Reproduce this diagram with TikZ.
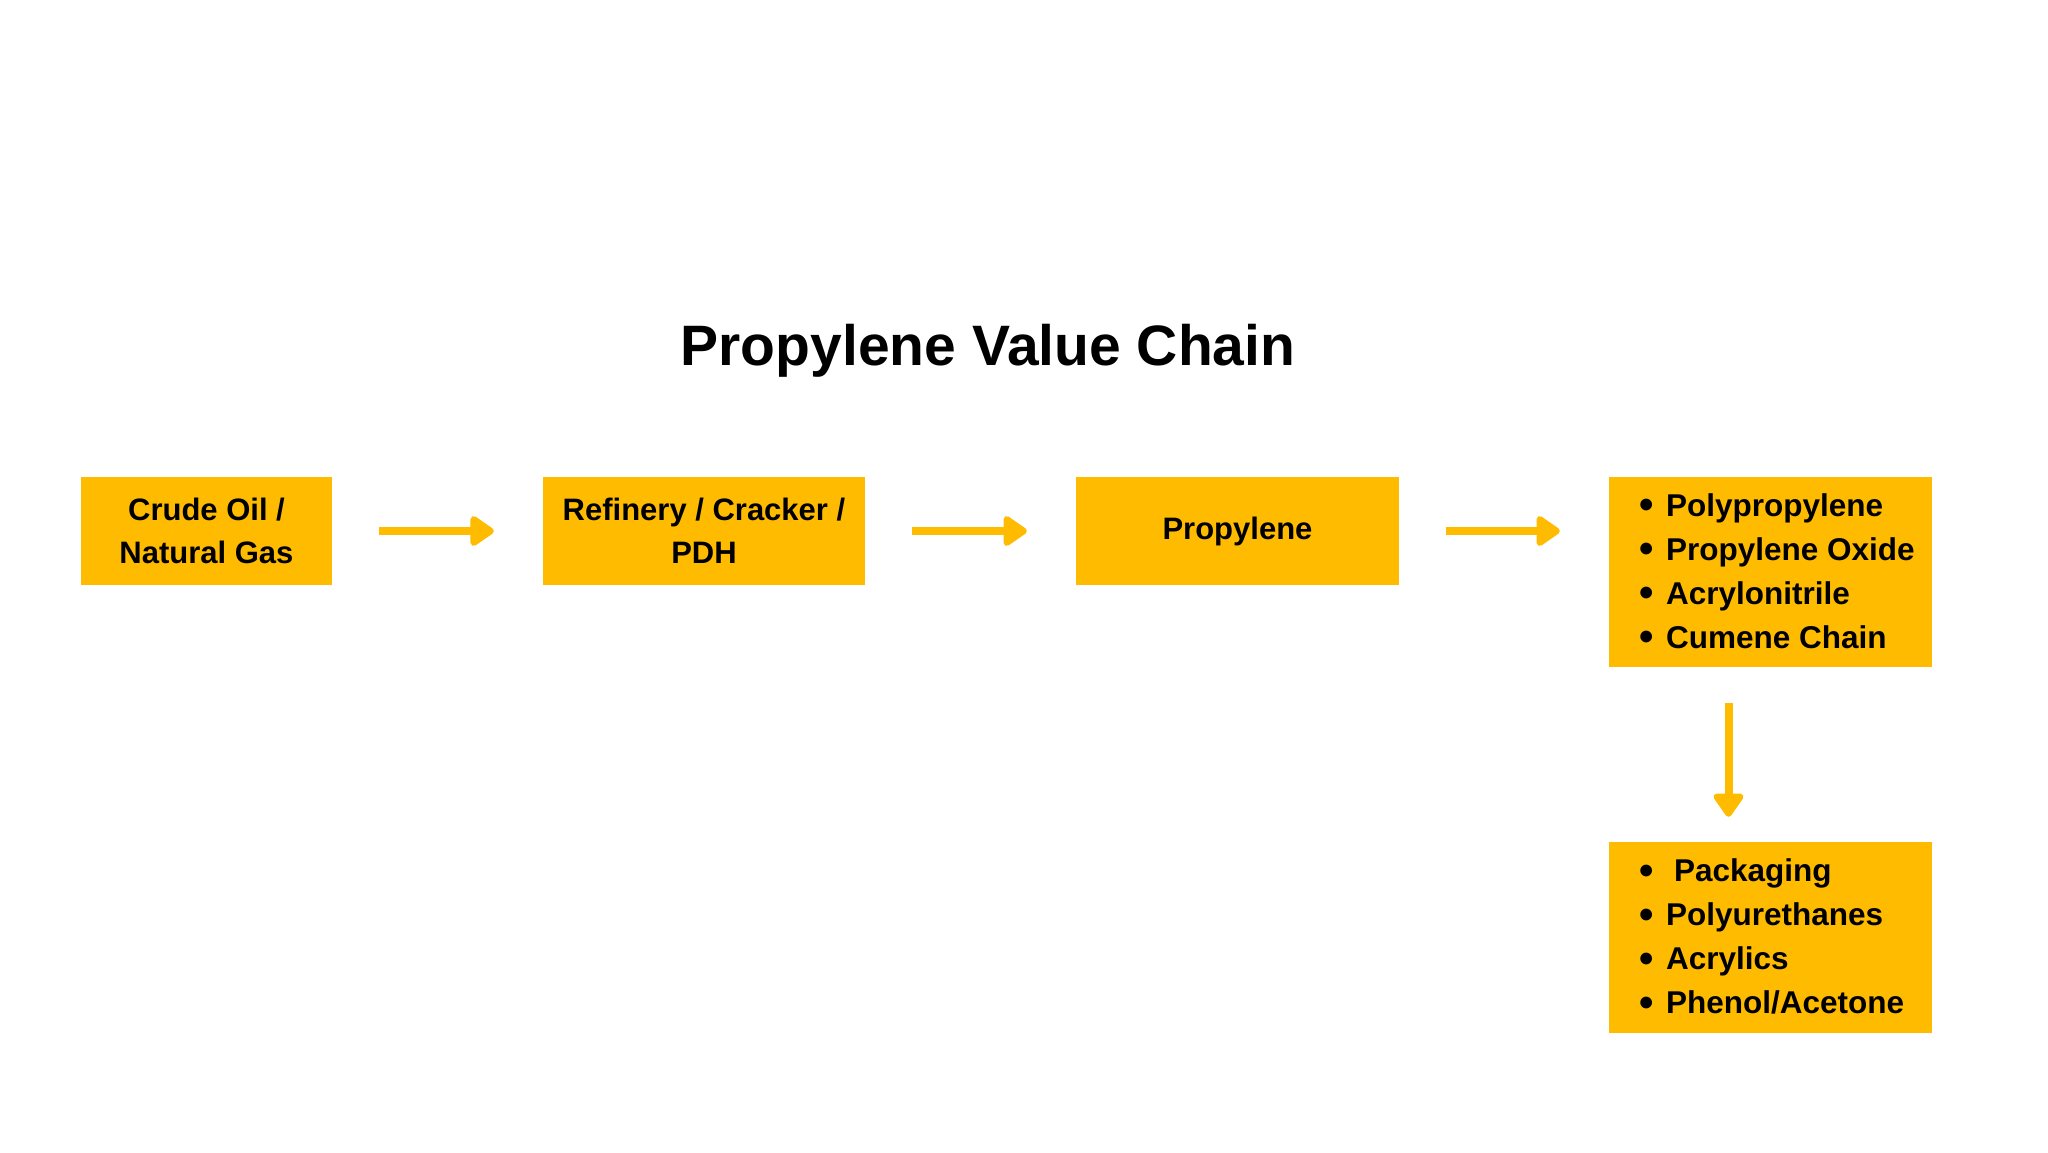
\documentclass[tikz,border=0pt]{standalone}
\usepackage{fontspec}
\setmainfont{Liberation Sans}
\usetikzlibrary{arrows.meta}
\definecolor{boxy}{HTML}{FFBB00}
\newcommand{\blt}{\makebox[27pt][l]{\raisebox{-2.5pt}{\scalebox{1.3}{•}}}}
\begin{document}
\begin{tikzpicture}[x=1pt,y=-1pt,
  stagebox/.style={fill=boxy,draw=none,inner sep=0pt,align=center,
    font=\fontsize{31}{43}\selectfont\bfseries,text=black},
  listtext/.style={inner sep=0pt,align=left,anchor=west,
    font=\fontsize{31.5}{44}\selectfont\bfseries,text=black},
  flow/.style={draw=boxy,line width=8pt,
    -{Triangle[length=26pt,width=34pt,round]}}]
\useasboundingbox (0,0) rectangle (2048,1152);
\fill[white] (0,0) rectangle (2048,1152);

\node[font=\fontsize{57}{66}\selectfont\bfseries,anchor=base] (title) at (988,365) {Propylene Value Chain};

\node[stagebox,minimum width=251pt,minimum height=108pt] (b1) at (206.5,531) {Crude Oil /\\Natural Gas};
\node[stagebox,minimum width=322pt,minimum height=108pt] (b2) at (704,531) {Refinery / Cracker /\\PDH};
\node[stagebox,minimum width=323pt,minimum height=108pt] (b3) at (1237.5,531) {Propylene};
\node[stagebox,minimum width=323pt,minimum height=190pt] (b4) at (1770.5,572) {};
\node[stagebox,minimum width=323pt,minimum height=191pt] (b5) at (1770.5,937.5) {};

\node[listtext] (l4) at ([xshift=30pt]b4.west) {%
\blt Polypropylene\\
\blt Propylene Oxide\\
\blt Acrylonitrile\\
\blt Cumene Chain};
\node[listtext] (l5) at ([xshift=30pt]b5.west) {%
\blt\hspace{8pt}Packaging\\
\blt Polyurethanes\\
\blt Acrylics\\
\blt Phenol/Acetone};

\draw[flow,shorten <=47pt,shorten >=49pt] (b1.east) -- (b2.west);
\draw[flow,shorten <=47pt,shorten >=49pt] (b2.east) -- (b3.west);
\draw[flow,shorten <=47pt,shorten >=49pt] (b3.east) -- (b4.west |- b3.east);
\draw[flow,shorten <=36pt,shorten >=25pt] ([xshift=-42pt]b4.south) -- ([xshift=-42pt]b5.north);
\end{tikzpicture}
\end{document}
